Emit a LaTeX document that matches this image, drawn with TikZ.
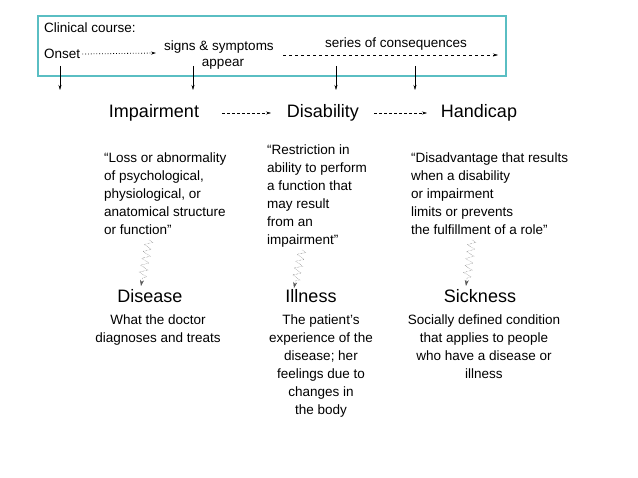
\documentclass[tikz,border=0pt]{standalone}
\usepackage{fontspec}
\setmainfont{Liberation Sans}
\usetikzlibrary{decorations.pathmorphing,arrows.meta}
\definecolor{teal1}{RGB}{90,190,195}
\begin{document}
\begin{tikzpicture}[x=1pt,y=-1pt,
  sm/.style={font=\fontsize{13.5}{18}\selectfont,inner sep=0pt},
  big/.style={font=\fontsize{18}{20}\selectfont,inner sep=0pt},
  ar/.style={-{Stealth[length=5pt,width=3pt]}},
  sq/.style={densely dotted,gray!70!black,decorate,decoration={zigzag,amplitude=4pt,segment length=7pt,post length=5pt},-{Stealth[length=6pt,width=4pt]}}]
\useasboundingbox (0,0) rectangle (638,478);
\draw[teal1,line width=1.2pt] (38,16) rectangle (506,76);
\node[sm,anchor=west] (cc) at (44,28) {Clinical course:};
\node[sm,anchor=west] (on) at (44,54) {Onset};
\node[sm] (ss) at (219,47) {signs \& symptoms};
\node[sm] (ap) at (223,64) {appear};
\node[sm] (sc) at (396,44) {series of consequences};
\coordinate (a1) at (156,53);
\coordinate (b0) at (283,55); \coordinate (b1) at (498,55);
\draw[ar,dotted,thick] ([xshift=2pt]on.east) -- (a1);
\draw[ar,dashed] (b0) -- (b1);
\foreach \x/\n in {60/d1,193/d2,336/d3,415/d4}{
  \coordinate (\n s) at (\x,66); \coordinate (\n e) at (\x,90);
  \draw[ar] (\n s) -- (\n e);}
\node[big] (imp) at (154,113) {Impairment};
\node[big] (dis) at (323,113) {Disability};
\node[big] (han) at (479,113) {Handicap};
\coordinate (i0) at (222,113); \coordinate (i1) at (271,113);
\coordinate (j0) at (374,113); \coordinate (j1) at (427,113);
\draw[ar,densely dashed] (i0) -- (i1);
\draw[ar,densely dashed] (j0) -- (j1);
\node[sm,anchor=north west,align=left] (t1) at (104,153) {“Loss or abnormality\\of psychological,\\physiological, or\\anatomical structure\\or function”};
\node[sm,anchor=north west,align=left] (t2) at (267,145) {“Restriction in\\ability to perform\\a function that\\may result\\from an\\impairment”};
\node[sm,anchor=north west,align=left] (t3) at (411,153) {“Disadvantage that results\\when a disability\\or impairment\\limits or prevents\\the fulfillment of a role”};
\node[big] (ds) at (150,296) {Disease};
\node[big] (il) at (311,296) {Illness};
\node[big] (sk) at (480,296) {Sickness};
\draw[sq] (149,240) -- (141,286);
\draw[sq] (302,250) -- (294,288);
\draw[sq] (472,240) -- (466,286);
\node[sm,anchor=north,align=center] at (158,315) {What the doctor\\diagnoses and treats};
\node[sm,anchor=north,align=center] at (321,315) {The patient’s\\experience of the\\disease; her\\feelings due to\\changes in\\the body};
\node[sm,anchor=north,align=center] at (484,315) {Socially defined condition\\that applies to people\\who have a disease or\\illness};
\end{tikzpicture}
\end{document}
